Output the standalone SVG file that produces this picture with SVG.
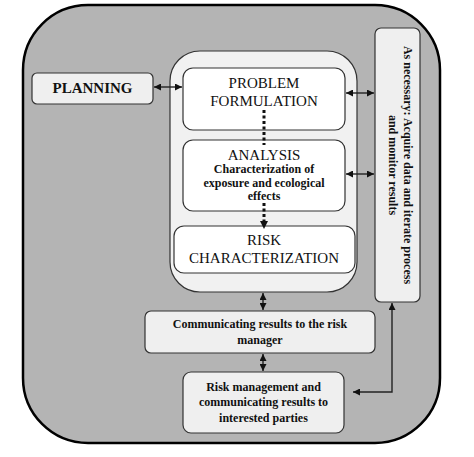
<svg xmlns="http://www.w3.org/2000/svg" width="474" height="457" viewBox="0 0 474 457">
<style>
.box{fill:#efefef;stroke:#333;stroke-width:1.2}
.wbox{fill:#fff;stroke:#333;stroke-width:1.2}
.h{font-family:"Liberation Serif","Times New Roman",serif;font-size:15px;fill:#111;text-anchor:middle}
.b{font-family:"Liberation Serif","Times New Roman",serif;font-size:12px;font-weight:bold;fill:#111;text-anchor:middle}
.ln{fill:none;stroke:#222;stroke-width:1.4}
.dot{fill:none;stroke:#111;stroke-width:3;stroke-dasharray:3 2.5}
</style>
<defs>
<marker id="ah" viewBox="0 0 10 10" refX="10" refY="5" markerWidth="8" markerHeight="7" markerUnits="userSpaceOnUse" orient="auto-start-reverse">
<path d="M0,0 L10,5 L0,10 z" fill="#111"/>
</marker>
</defs>
<rect width="474" height="457" fill="#fff"/>
<g id="frame">
<rect x="23" y="5" width="417" height="438" rx="65" ry="65" fill="#b4b4b4" stroke="#000" stroke-width="2.5"/>
</g>
<g id="inner">
<rect x="170" y="51" width="187" height="241" rx="30" ry="30" fill="#f1f1f1" stroke="#333" stroke-width="1.2"/>
</g>
<g id="planning">
<rect class="box" x="32" y="73" width="121" height="31" rx="5"/>
<text class="h" x="92.5" y="93" font-weight="bold" font-size="14">PLANNING</text>
</g>
<g id="problem">
<rect class="wbox" x="183" y="68" width="162" height="62" rx="10"/>
<text class="h" x="264" y="88">PROBLEM</text>
<text class="h" x="264" y="106">FORMULATION</text>
</g>
<g id="analysis">
<rect class="wbox" x="183" y="140" width="162" height="71" rx="10"/>
<text class="h" x="264" y="160">ANALYSIS</text>
<text class="b" x="264" y="173">Characterization of</text>
<text class="b" x="264" y="187">exposure and ecological</text>
<text class="b" x="264" y="200">effects</text>
</g>
<g id="risk">
<rect class="wbox" x="174" y="226" width="181" height="47" rx="10"/>
<text class="h" x="264" y="245">RISK</text>
<text class="h" x="264" y="263">CHARACTERIZATION</text>
</g>
<g id="necessary">
<rect class="box" x="375" y="28" width="45" height="274" rx="6"/>
<text class="b" transform="translate(404,165) rotate(90)" x="0" y="0">As necessary: Acquire data and iterate process</text>
<text class="b" transform="translate(389,165) rotate(90)" x="0" y="0">and monitor results</text>
</g>
<g id="communicating">
<rect class="box" x="145" y="311" width="230" height="42" rx="6"/>
<text class="b" x="260" y="328">Communicating results to the risk</text>
<text class="b" x="260" y="344">manager</text>
</g>
<g id="management">
<rect class="box" x="183" y="372" width="161" height="61" rx="8"/>
<text class="b" x="263.5" y="391">Risk management and</text>
<text class="b" x="263.5" y="406">communicating results to</text>
<text class="b" x="263.5" y="422">interested parties</text>
</g>
<g id="connectors">
<line class="ln" x1="154" y1="87" x2="182" y2="87" marker-start="url(#ah)" marker-end="url(#ah)"/>
<line class="ln" x1="346" y1="93" x2="374" y2="93" marker-start="url(#ah)" marker-end="url(#ah)"/>
<line class="ln" x1="346" y1="174" x2="374" y2="174" marker-start="url(#ah)" marker-end="url(#ah)"/>
<line class="ln" x1="263" y1="293" x2="263" y2="310" marker-start="url(#ah)" marker-end="url(#ah)"/>
<line class="ln" x1="263" y1="354" x2="263" y2="371" marker-start="url(#ah)" marker-end="url(#ah)"/>
<polyline class="ln" points="392,303 392,392 353,392" marker-start="url(#ah)" marker-end="url(#ah)"/>
<line class="dot" x1="264" y1="110" x2="264" y2="145"/>
<line class="dot" x1="264" y1="203" x2="264" y2="222"/>
<path d="M260,221 L268,221 L264,229 z" fill="#111"/>
</g>
</svg>
